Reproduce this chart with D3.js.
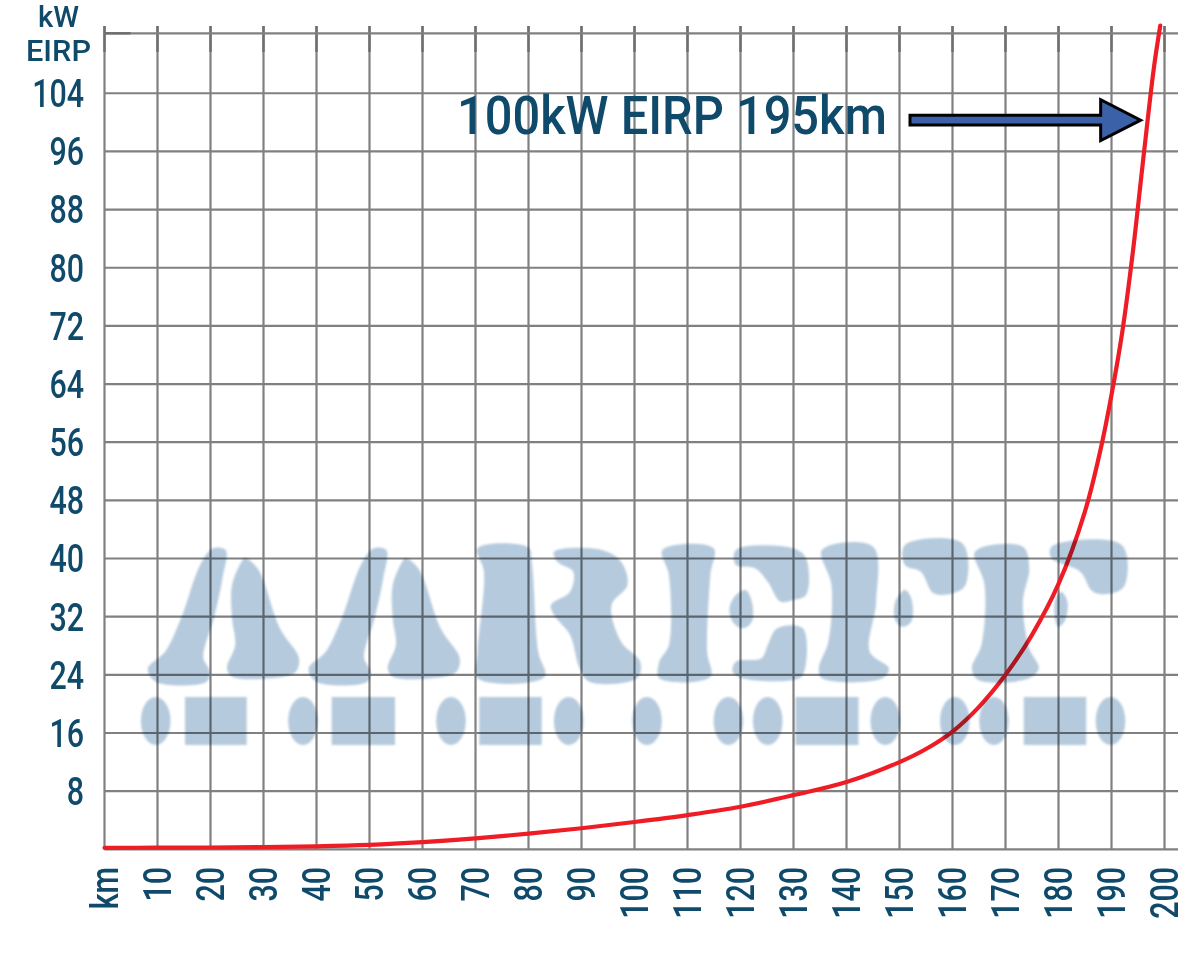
<!DOCTYPE html>
<html>
<head>
<meta charset="utf-8">
<script src="https://cdn.jsdelivr.net/npm/d3@7"></script>
<style>
  html, body { margin: 0; padding: 0; background: #ffffff; }
  svg { display: block; }
</style>
</head>
<body>
<svg id="chart" width="1200" height="954"></svg>
<script>
// ---------------- data ----------------
const distanceKm = [0, 10, 20, 30, 40, 50, 60, 70, 80, 90, 100, 110, 120, 130, 140, 150, 155, 160, 165, 170, 175, 180, 185, 188, 190, 192, 194, 196, 198, 199.2];
const powerKw    = [0.2, 0.22, 0.25, 0.3, 0.4, 0.6, 0.98, 1.5, 2.15, 2.9, 3.75, 4.7, 5.85, 7.45, 9.25, 12.0, 13.8, 16.2, 19.6, 24, 29.5, 36.5, 46.5, 55.2, 62.5, 71, 82, 95, 107.5, 113.3];

const xTickValues = [0, 10, 20, 30, 40, 50, 60, 70, 80, 90, 100, 110, 120, 130, 140, 150, 160, 170, 180, 190, 200];
const xTickLabels = ["km", "10", "20", "30", "40", "50", "60", "70", "80", "90", "100", "110", "120", "130", "140", "150", "160", "170", "180", "190", "200"];
const yTickValues = [8, 16, 24, 32, 40, 48, 56, 64, 72, 80, 88, 96, 104];
const yTickLabels = ["8", "16", "24", "32", "40", "48", "56", "64", "72", "80", "88", "96", "104"];
const yUnitLines = ["kW", "EIRP"];

const annotationText = "100kW EIRP 195km";
const annotationKm = 195.5;
const annotationKw = 100.3;

// ---------------- layout ----------------
const TEXT = "#0f4a6b";
const GRID = "#808080";
const CURVE = "#ee1c25";
const FONT = "Roboto, 'DejaVu Sans', sans-serif";

const x = d3.scaleLinear().domain([0, 200]).range([104.5, 1164.5]);
const y = d3.scaleLinear().domain([0, 112.25]).range([849.3, 33.3]);
const gridRight = 1178;
const gridTop = 26;

const svg = d3.select("#chart");

// ---------------- grid ----------------
const grid = svg.append("g");
grid.selectAll("line.v").data(xTickValues).join("line")
  .attr("x1", d => x(d)).attr("x2", d => x(d))
  .attr("y1", gridTop).attr("y2", y(0))
  .attr("stroke", GRID).attr("stroke-width", 2.2);
grid.selectAll("line.vs").data(xTickValues).join("line")
  .attr("x1", d => x(d)).attr("x2", d => x(d))
  .attr("y1", gridTop).attr("y2", gridTop + 26)
  .attr("stroke", "#6e6e6e").attr("stroke-width", 2.4);
grid.selectAll("line.h").data([0, ...yTickValues, y.domain()[1]]).join("line")
  .attr("x1", x(0)).attr("x2", gridRight)
  .attr("y1", d => y(d)).attr("y2", d => y(d))
  .attr("stroke", GRID).attr("stroke-width", 2.2);
grid.append("line")
  .attr("x1", x(0)).attr("x2", x(0) + 26)
  .attr("y1", y(y.domain()[1])).attr("y2", y(y.domain()[1]))
  .attr("stroke", "#6e6e6e").attr("stroke-width", 2.4);

// ---------------- curve ----------------
const pts = distanceKm.map((d, i) => [d, powerKw[i]]);
svg.append("path")
  .datum(pts)
  .attr("fill", "none")
  .attr("stroke", CURVE)
  .attr("stroke-width", 4.2)
  .attr("stroke-linecap", "round")
  .attr("d", d3.line().x(d => x(d[0])).y(d => y(d[1])).curve(d3.curveCatmullRom.alpha(0.5)));

// ---------------- watermark (decoration) ----------------
svg.append("defs").append("filter").attr("id", "soft")
  .append("feGaussianBlur").attr("stdDeviation", 0.8);
const wm = svg.append("g").style("mix-blend-mode", "multiply").attr("fill", "#b5cadd").attr("filter", "url(#soft)");
const zx = v => 130 + v / 1.568, zy = v => 535 + v / 3;
const shapes = [
  [[130,40],[150,45],[145,130],[130,260],[118,330],[115,370],[125,410],[120,440],[40,440],[28,400],[55,350],[80,250],[110,90]],
  [[180,70],[200,100],[235,280],[265,370],[260,410],[240,425],[160,425],[152,400],[165,330],[160,250],[160,150],[175,80]],
  [[545,40],[625,38],[630,80],[640,350],[650,425],[545,430],[545,350],[555,110]],
  [[665,50],[740,45],[770,80],[780,150],[755,210],[770,320],[800,380],[795,430],[720,440],[705,400],[690,300],[665,240],[660,210],[690,170],[695,110],[670,80]],
  [[835,45],[915,40],[910,120],[905,350],[910,425],[830,430],[830,380],[845,330],[845,120]],
  [[950,45],[1040,40],[1060,70],[1060,180],[1040,195],[1020,200],[1000,140],[980,100],[950,90]],
  [[965,165],[975,200],[975,260],[960,280],[945,260],[940,220],[950,180]],
  [[1015,280],[1055,280],[1055,420],[1040,435],[960,430],[945,410],[950,380],[990,370],[1000,330]],
  [[1085,45],[1165,35],[1170,200],[1160,350],[1190,400],[1180,430],[1085,430],[1080,400],[1095,320],[1100,150]],
  [[1215,30],[1305,25],[1310,150],[1290,175],[1260,175],[1240,110],[1215,90]],
  [[1215,165],[1225,190],[1225,260],[1210,275],[1200,255],[1200,200]],
  [[1325,50],[1400,35],[1410,100],[1400,200],[1410,340],[1425,400],[1410,430],[1330,435],[1320,400],[1335,330],[1340,150]],
  [[1445,35],[1555,30],[1560,150],[1540,175],[1510,170],[1490,110],[1445,70]],
  [[1460,170],[1470,200],[1465,260],[1455,275],[1450,200]]
];
const blob = d3.line().x(p => zx(p[0])).y(p => zy(p[1])).curve(d3.curveCatmullRomClosed.alpha(0.5));
shapes.forEach(s => wm.append("path").attr("d", blob(s)));
[shapes[0], shapes[1]].forEach(s => wm.append("path").attr("d", blob(s.map(p => [p[0] + 252, p[1]]))));
const ell = [155.7, 303, 451, 568.7, 647, 728.4, 767.7, 885.3, 954.8, 994, 1110.5];
const rects = [[185, 246.7], [331.7, 395], [479.3, 541.7], [795.4, 858.5], [1023.8, 1086.2]];
ell.forEach(cx => wm.append("ellipse").attr("cx", cx).attr("cy", 721).attr("rx", 14.8).attr("ry", 24));
rects.forEach(r => wm.append("rect").attr("x", r[0]).attr("y", 697).attr("width", r[1] - r[0]).attr("height", 48));

// ---------------- axis labels ----------------
const FS = 39, SX = 0.78;
svg.append("g").selectAll("text").data(yTickValues).join("text")
  .attr("transform", d => `translate(84,${y(d) + 0.355 * FS}) scale(${SX},1)`)
  .attr("text-anchor", "end")
  .attr("font-family", FONT).attr("font-weight", 500).attr("font-size", FS)
  .attr("fill", TEXT)
  .text((d, i) => yTickLabels[i]);

svg.append("g").selectAll("text").data(xTickValues).join("text")
  .attr("transform", d => `translate(${x(d)},867) rotate(-90) scale(${SX},1)`)
  .attr("y", 0.355 * FS)
  .attr("text-anchor", "end")
  .attr("font-family", FONT).attr("font-weight", 500).attr("font-size", FS)
  .attr("fill", TEXT)
  .text((d, i) => xTickLabels[i]);

const unitW = [41, 65];
svg.append("g").selectAll("text").data(yUnitLines).join("text")
  .attr("x", 58.5).attr("y", (d, i) => i === 0 ? 26.5 : 60.5)
  .attr("text-anchor", "middle")
  .attr("font-family", FONT).attr("font-weight", 500).attr("font-size", 29.5)
  .attr("fill", TEXT)
  .attr("textLength", (d, i) => unitW[i]).attr("lengthAdjust", "spacingAndGlyphs")
  .text(d => d);

// ---------------- annotation ----------------
svg.append("text")
  .attr("x", 457).attr("y", 134)
  .attr("font-family", FONT).attr("font-weight", 500).attr("font-size", 53.5)
  .attr("fill", TEXT)
  .attr("textLength", 430).attr("lengthAdjust", "spacingAndGlyphs")
  .text(annotationText);

const tipX = x(annotationKm), tipY = y(annotationKw);
const headL = 40, headH = 20.5, shaftH = 4.8, shaftStart = 910;
const arrowPts = [
  [shaftStart, tipY - shaftH], [tipX - headL, tipY - shaftH], [tipX - headL, tipY - headH],
  [tipX, tipY], [tipX - headL, tipY + headH], [tipX - headL, tipY + shaftH], [shaftStart, tipY + shaftH]
];
svg.append("path")
  .attr("d", d3.line()(arrowPts) + "Z")
  .attr("fill", "#3b61a9").attr("stroke", "#000").attr("stroke-width", 3)
  .attr("stroke-linejoin", "miter");
</script>
</body>
</html>
